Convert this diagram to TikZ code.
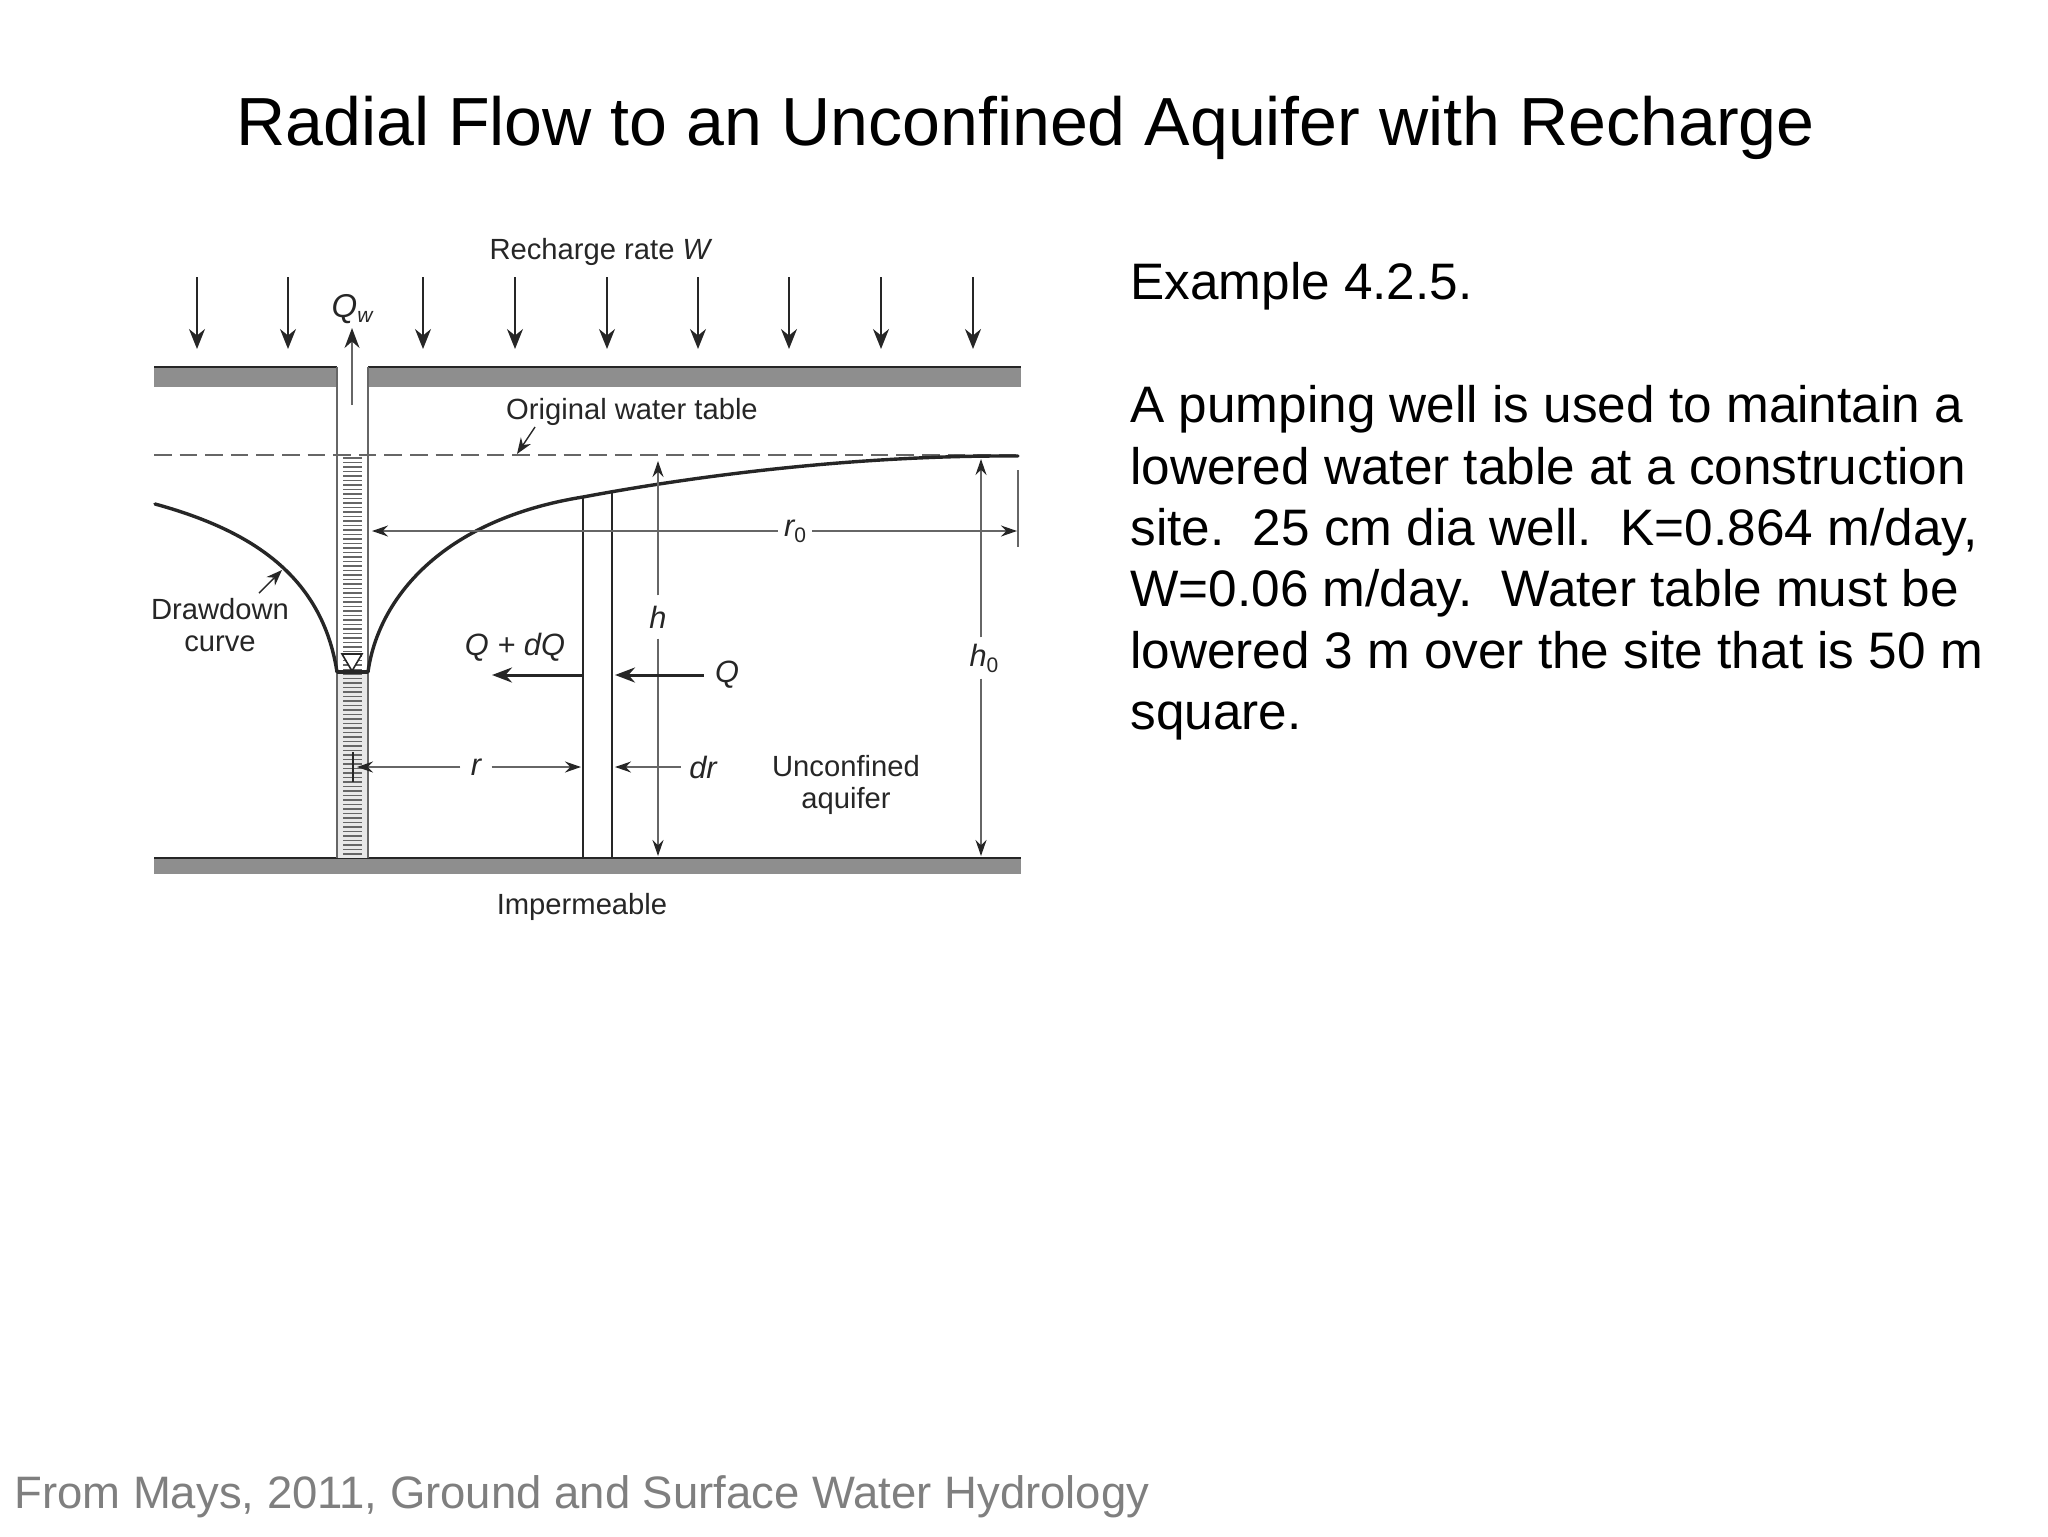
\documentclass[tikz,border=0pt]{standalone}
\usepackage{fontspec}
\setmainfont{Liberation Sans}
\usetikzlibrary{arrows.meta}
\definecolor{ink}{HTML}{262626}
\definecolor{thin}{HTML}{666666}
\definecolor{bar}{HTML}{8E8E8E}
\definecolor{foot}{HTML}{7F7F7F}
\tikzset{
  x=0.5pt,y=-0.5pt,
  slide/.style={anchor=base west,inner sep=0pt,font=\fontsize{25.65}{30}\selectfont,text=black},
  lab/.style={inner sep=0pt,text=ink,font=\fontsize{14.6}{16}\selectfont},
  twolab/.style={inner sep=0pt,text=ink,align=center,font=\fontsize{14.6}{16.3}\selectfont},
  var/.style={inner sep=3pt,text=ink,font=\fontsize{15.4}{17}\selectfont\itshape},
  rain/.style={draw=ink,line width=0.9pt,-{Stealth[length=10pt,width=8pt]}},
  dim/.style={draw=thin,line width=0.7pt,-{Stealth[length=8pt,width=5.5pt,color=ink]}},
  heavy/.style={draw=ink,line width=1.5pt,-{Stealth[length=10pt,width=7.5pt]}},
  wall/.style={draw=thin,line width=0.9pt},
  curve/.style={draw=ink,line width=1.7pt,line cap=round},
  barfill/.style={fill=bar,draw=none},
  barline/.style={draw=ink,line width=0.9pt},
  screen/.style={draw=thin,line width=0.55pt},
  pointer/.style={draw=ink,line width=0.7pt,-{Stealth[length=8pt,width=6pt]}}
}
\begin{document}
\begin{tikzpicture}
\useasboundingbox (0,0) rectangle (2048,1536);
% title and text
\node[anchor=base west,inner sep=0pt,font=\fontsize{34.05}{38}\selectfont,text=black] (title) at (236,145) {Radial Flow to an Unconfined Aquifer with Recharge};
\node[slide] (t0) at (1130,299) {Example 4.2.5.};
\node[slide] (t1) at (1130,422) {A pumping well is used to maintain a};
\node[slide] (t2) at (1130,484) {lowered water table at a construction};
\node[slide] (t3) at (1130,545) {site.\ \ 25 cm dia well.\ \ K=0.864 m/day,};
\node[slide] (t4) at (1130,606) {W=0.06 m/day.\ \ Water table must be};
\node[slide] (t5) at (1130,668) {lowered 3 m over the site that is 50 m};
\node[slide] (t6) at (1130,729) {square.};
\node[anchor=base west,inner sep=0pt,font=\fontsize{22.74}{26}\selectfont,text=foot] (foot) at (14,1508) {From Mays, 2011, Ground and Surface Water Hydrology};
% bars
\fill[barfill] (154,367) rectangle (337,387);
\fill[barfill] (368,367) rectangle (1021,387);
\fill[barfill] (154,858) rectangle (1021,874);
\draw[barline] (154,367) -- (337,367);
\draw[barline] (368,367) -- (1021,367);
\draw[barline] (154,858) -- (1021,858);
% original water table
\draw[draw=thin,line width=1pt,dash pattern=on 8.8pt off 4pt] (154,455) -- (1018,455);
% well interior and screen
\fill[black!9] (337,672) rectangle (368,858);
\foreach \yy in {458,462.5,...,855}{\draw[screen] (343,\yy) -- (362,\yy);}
% well walls
\draw[wall] (337,367) -- (337,858);
\draw[wall] (368,367) -- (368,858);
% water surface in well
\filldraw[draw=ink,fill=white,line width=0.8pt] (342,654) -- (362,654) -- (352,671) -- cycle;
\draw[draw=ink,line width=1.6pt] (337,672) -- (368,672);
% recharge
\foreach \xx in {197,288,423,515,607,698,789,881,973}{
  \coordinate (rt\xx) at (\xx,277);
  \coordinate (rb\xx) at (\xx,349);
  \draw[rain] (rt\xx) -- (rb\xx);
}
\node[lab] (recharge) at (601,252) {Recharge rate \textit{W}};
% pumping
\node[var,font=\fontsize{16.5}{17}\selectfont\itshape] (qw) at (352,309) {Q\raisebox{-2.5pt}{\fontsize{10.5}{10}\selectfont w}};
\coordinate (qwfoot) at (352,405);
\coordinate (qwtip) at (352,328);
\draw[draw=thin,line width=0.9pt,-{Stealth[length=10pt,width=7.5pt,color=ink]}] (qwfoot) -- (qwtip);
% drawdown curve
\coordinate (cl0) at (155,504);
\coordinate (cl1) at (337,672);
\coordinate (cr1) at (368,672);
\coordinate (cm) at (583,497);
\coordinate (cr9) at (1018,456);
\draw[curve] (cl0) .. controls (250,530) and (322,575) .. (cl1);
\draw[curve] (cr1) .. controls (378,600) and (440,520) .. (cm) .. controls (700,475) and (860,455) .. (cr9);
% column
\coordinate (c1t) at (583,496);
\coordinate (c1b) at (583,858);
\coordinate (c2t) at (612,491);
\coordinate (c2b) at (612,858);
\draw[draw=ink,line width=0.9pt] (c1t) -- (c1b);
\draw[draw=ink,line width=0.9pt] (c2t) -- (c2b);
% r0
\node[var] (r0) at (795,531) {r\raisebox{-3pt}{\fontsize{10.5}{10}\selectfont\upshape 0}};
\coordinate (r0l) at (372,531);
\coordinate (r0r) at (1017,531);
\coordinate (tickt) at (1018,470);
\coordinate (tickb) at (1018,547);
\draw[dim] (r0) -- (r0l);
\draw[dim] (r0) -- (r0r);
\draw[draw=thin,line width=0.7pt] (tickt) -- (tickb);
% h
\coordinate (ht) at (658,461);
\coordinate (hb) at (658,856);
\node[var] (h) at (ht |- 0,617) {h};
\draw[dim,shorten <=2pt] (h) -- (ht);
\draw[dim,shorten <=2pt] (h) -- (hb);
% h0
\coordinate (h0t) at (981,459);
\coordinate (h0b) at (981,856);
\node[var] (h0) at (984,658) {h\raisebox{-3pt}{\fontsize{10.5}{10}\selectfont\upshape 0}};
\draw[dim] (h0t |- h0.north) -- (h0t);
\draw[dim] (h0t |- h0.south) -- (h0b);
% flows
\node[var] (qd) at (515,647) {Q + dQ};
\coordinate (qds) at (583,675);
\coordinate (qde) at (492,675);
\draw[heavy] (qds) -- (qde);
\node[var] (q) at (727,675) {Q};
\coordinate (qe) at (615,675);
\draw[heavy,shorten <=2.5pt] (q) -- (qe);
% r, dr
\node[var] (r) at (476,767) {r};
\coordinate (rl) at (357,767);
\coordinate (rr) at (581,767);
\draw[dim,shorten <=2pt] (r) -- (rl);
\draw[dim,shorten <=2pt] (r) -- (rr);
\coordinate (crosst) at (353,752);
\coordinate (crossb) at (353,782);
\draw[draw=ink,line width=0.7pt] (crosst) -- (crossb);
\node[var] (dr) at (703,767) {dr};
\coordinate (dre) at (615,767);
\draw[dim,shorten <=1pt] (dr) -- (dre);
% labels
\node[twolab] (aq) at (846,785) {Unconfined\\aquifer};
\node[twolab] (dd) at (220,625) {Drawdown\\curve};
\node[lab] (owt) at (632,412) {Original water table};
\node[lab] (imp) at (582,907) {Impermeable};
\coordinate (owta) at (535,427);
\coordinate (owtb) at (517,454);
\draw[pointer] (owta) -- (owtb);
\coordinate (dda) at (259,593);
\coordinate (ddb) at (282,570);
\draw[pointer] (dda) -- (ddb);
\end{tikzpicture}
\end{document}
